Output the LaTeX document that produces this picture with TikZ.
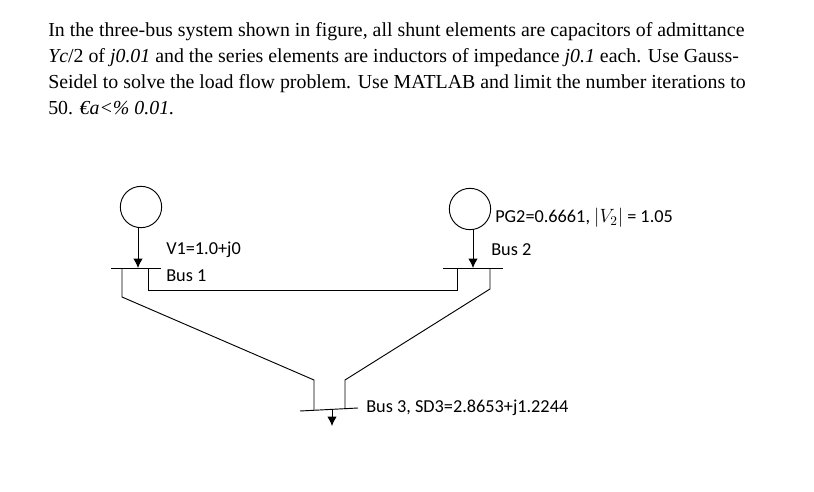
\documentclass[tikz,border=0pt]{standalone}
\usepackage{fontspec}
\usetikzlibrary{arrows.meta}
\setmainfont{Liberation Serif}
\newfontfamily\calfont{Carlito}
\begin{document}
\begin{tikzpicture}[x=0.75pt,y=-0.75pt,
  ln/.style={line width=0.7pt},
  arr/.style={ln,-{Latex[length=7pt,width=7pt]}},
  gen/.style={circle,draw,line width=0.7pt,minimum size=31pt,inner sep=0},
  lab/.style={anchor=west,inner sep=0,font=\calfont\fontsize{13.7pt}{15pt}\selectfont}]
\useasboundingbox (0,0) rectangle (814,492);
\node[anchor=north west,inner sep=0,align=left,font=\fontsize{14.9pt}{19.5pt}\selectfont] (txt) at (48,22)
{In the three-bus system shown in figure, all shunt elements are capacitors of admittance\\
\textit{Yc}/2 of \textit{j0.01} and the series elements are inductors of impedance \textit{j0.1} each. Use Gauss-\\
Seidel to solve the load flow problem. Use MATLAB and limit the number iterations to\\
50. \textit{€a<\% 0.01.}};
\node[gen] (g1) at (141,207) {};
\node[gen] (g2) at (470,209) {};
\coordinate (b1) at (138,268);
\coordinate (b2) at (473,268);
\draw[arr] (g1.south -| b1) -- (b1);
\draw[arr] (g2.south -| b2) -- (b2);
\draw[ln] (111,268) -- (161,268);
\draw[ln] (443,268) -- (503,268);
\draw[ln] (122,268) -- (122,297) -- (314,380) -- (314,410);
\draw[ln] (148,268) -- (148,290) -- (457,290) -- (457,268);
\draw[ln] (490,268) -- (490,289) -- (345,380) -- (345,409);
\draw[ln] (300,411) -- (358,408);
\coordinate (b3) at (332,410);
\draw[arr] (b3) -- (332,426);
\node[lab] (l1) at (166,250) {V1=1.0+j0};
\node[lab] (l2) at (166,276) {Bus 1};
\node[lab] (l3) at (495,218) {PG2=0.6661, $\left|V_2\right|$ = 1.05};
\node[lab] (l4) at (491,250) {Bus 2};
\node[lab] (l5) at (366,408) {Bus 3, SD3=2.8653+j1.2244};
\end{tikzpicture}
\end{document}
